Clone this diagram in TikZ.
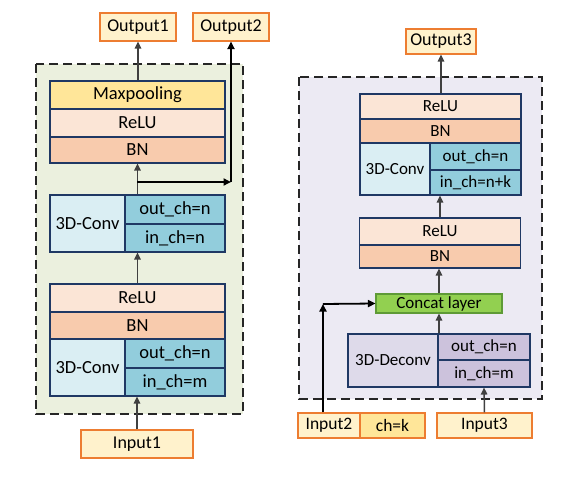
\documentclass[tikz,border=0pt]{standalone}
\usepackage{fontspec}
\setmainfont{Carlito}
\usetikzlibrary{arrows.meta}
\definecolor{navy}{HTML}{1F3864}
\definecolor{orng}{HTML}{ED7D31}
\definecolor{cream}{HTML}{FFF2CC}
\definecolor{gold}{HTML}{FFE699}
\definecolor{relucol}{HTML}{FBE5D6}
\definecolor{bncol}{HTML}{F8CBAD}
\definecolor{convL}{HTML}{DAEEF3}
\definecolor{convR}{HTML}{92CDDC}
\definecolor{bgleft}{HTML}{EBF0DE}
\definecolor{bgright}{HTML}{ECEAF3}
\definecolor{deconvL}{HTML}{DEDAEA}
\definecolor{deconvR}{HTML}{CCC2DC}
\definecolor{concatcol}{HTML}{92D050}
\definecolor{concatbd}{HTML}{5E9A36}
\definecolor{arrgray}{HTML}{404040}
\tikzset{
  blk/.style={draw=navy, line width=1.1pt, inner sep=0pt, font=\fontsize{18.5}{20}\selectfont},
  rblk/.style={blk, font=\fontsize{17}{18}\selectfont},
  iobox/.style={draw=orng, fill=cream, line width=1.1pt, inner sep=0pt, font=\fontsize{18}{20}\selectfont},
  frame/.style={dashed, dash pattern=on 9pt off 5pt, line width=1.3pt, draw=black!85},
  arr/.style={draw=arrgray, line width=1.5pt, -{Triangle[length=7pt,width=6.5pt]}},
  barr/.style={draw=black, line width=1.8pt, -{Triangle[length=7.5pt,width=7pt]}},
}
\begin{document}
\begin{tikzpicture}[x=1pt,y=-1pt]
\useasboundingbox (0,0) rectangle (582,479);
% backgrounds
\draw[frame, fill=bgleft] (36,64) rectangle (243,414);
\draw[frame, fill=bgright] (299,77) rectangle (542,399);

% ---------- left panel ----------
\node[iobox, minimum width=76pt, minimum height=28pt] (out1) at (138,27) {Output1};
\node[iobox, minimum width=76pt, minimum height=28pt] (out2) at (231,27) {Output2};
\node[blk, fill=gold, minimum width=175pt, minimum height=28pt] (maxp) at (137.5,95) {Maxpooling};
\node[blk, fill=relucol, minimum width=175pt, minimum height=28pt] (relu1) at (137.5,123) {ReLU};
\node[blk, fill=bncol, minimum width=175pt, minimum height=26pt] (bn1) at (137.5,150) {BN};
\node[blk, fill=convL, minimum width=75pt, minimum height=57pt] (conv1L) at (87.5,223.5) {3D-Conv};
\node[blk, fill=convR, minimum width=100pt, minimum height=29pt] (conv1o) at (175,209.5) {out\_ch=n};
\node[blk, fill=convR, minimum width=100pt, minimum height=28pt] (conv1i) at (175,238) {in\_ch=n};
\node[blk, fill=relucol, minimum width=175pt, minimum height=28pt] (relu2) at (137.5,298) {ReLU};
\node[blk, fill=bncol, minimum width=175pt, minimum height=27pt] (bn2) at (137.5,325.5) {BN};
\node[blk, fill=convL, minimum width=75pt, minimum height=57pt] (conv2L) at (87.5,367.5) {3D-Conv};
\node[blk, fill=convR, minimum width=100pt, minimum height=29pt] (conv2o) at (175,353.5) {out\_ch=n};
\node[blk, fill=convR, minimum width=100pt, minimum height=28pt] (conv2i) at (175,382) {in\_ch=m};
\node[iobox, minimum width=112pt, minimum height=28pt] (in1) at (137,444) {Input1};

\draw[arr] (maxp.north -| out1.south) -- (out1.south);
\draw[arr] (bn1.south |- conv1o.north) -- (bn1.south);
\draw[arr] (relu2.north) -- (relu2.north |- conv1i.south);
\draw[arr] (in1.north) -- (in1.north |- conv2i.south);
\coordinate (j1) at (137,182);
\coordinate (c1) at (231,182);
\draw[barr] (j1) -- (c1);
\draw[barr] (c1) -- (out2.south);

% ---------- right panel ----------
\node[iobox, minimum width=70pt, minimum height=25pt] (out3) at (441,41.5) {Output3};
\node[rblk, fill=relucol, minimum width=161pt, minimum height=25pt] (r1relu) at (440.5,106.5) {ReLU};
\node[rblk, fill=bncol, minimum width=161pt, minimum height=24pt] (r1bn) at (440.5,131) {BN};
\node[rblk, fill=convL, minimum width=70pt, minimum height=52pt] (r1convL) at (395,169) {3D-Conv};
\node[rblk, fill=convR, minimum width=91pt, minimum height=27pt] (r1convo) at (475.5,156.5) {out\_ch=n};
\node[rblk, fill=convR, minimum width=91pt, minimum height=25pt] (r1convi) at (475.5,182.5) {in\_ch=n+k};
\node[rblk, fill=relucol, minimum width=161pt, minimum height=27pt] (r2relu) at (440,231.5) {ReLU};
\node[rblk, fill=bncol, minimum width=161pt, minimum height=23pt] (r2bn) at (440,256.5) {BN};
\node[rblk, draw=concatbd, fill=concatcol, minimum width=126pt, minimum height=19pt] (concat) at (439,303.5) {Concat layer};
\node[rblk, fill=deconvL, minimum width=90pt, minimum height=53pt] (deconvL) at (393,360.5) {3D-Deconv};
\node[rblk, fill=deconvR, minimum width=92pt, minimum height=26pt] (deconvo) at (484,347) {out\_ch=n};
\node[rblk, fill=deconvR, minimum width=92pt, minimum height=27pt] (deconvi) at (484,373.5) {in\_ch=m};
\node[iobox, minimum width=62pt, minimum height=25pt, font=\fontsize{17.5}{19}\selectfont] (in2) at (329,425.5) {Input2};
\node[iobox, fill=gold, minimum width=65pt, minimum height=25pt, font=\fontsize{17.5}{19}\selectfont] (chk) at (392.5,425.5) {ch=k};
\node[iobox, minimum width=95pt, minimum height=25pt, font=\fontsize{17.5}{19}\selectfont] (in3) at (484.5,425.5) {Input3};

\draw[arr] (r1relu.north -| out3.south) -- (out3.south);
\draw[arr] (r2relu.north) -- (r2relu.north |- r1convi.south);
\draw[arr] (concat.north) -- (concat.north |- r2bn.south);
\draw[arr] (concat.south |- deconvo.north) -- (concat.south);
\draw[arr] (in3.north) -- (deconvi.south);
\coordinate (k1) at (323,304);
\draw[barr] (k1 |- in2.north) -- (k1);
\draw[barr] (k1) -- (concat.west);
\end{tikzpicture}
\end{document}
